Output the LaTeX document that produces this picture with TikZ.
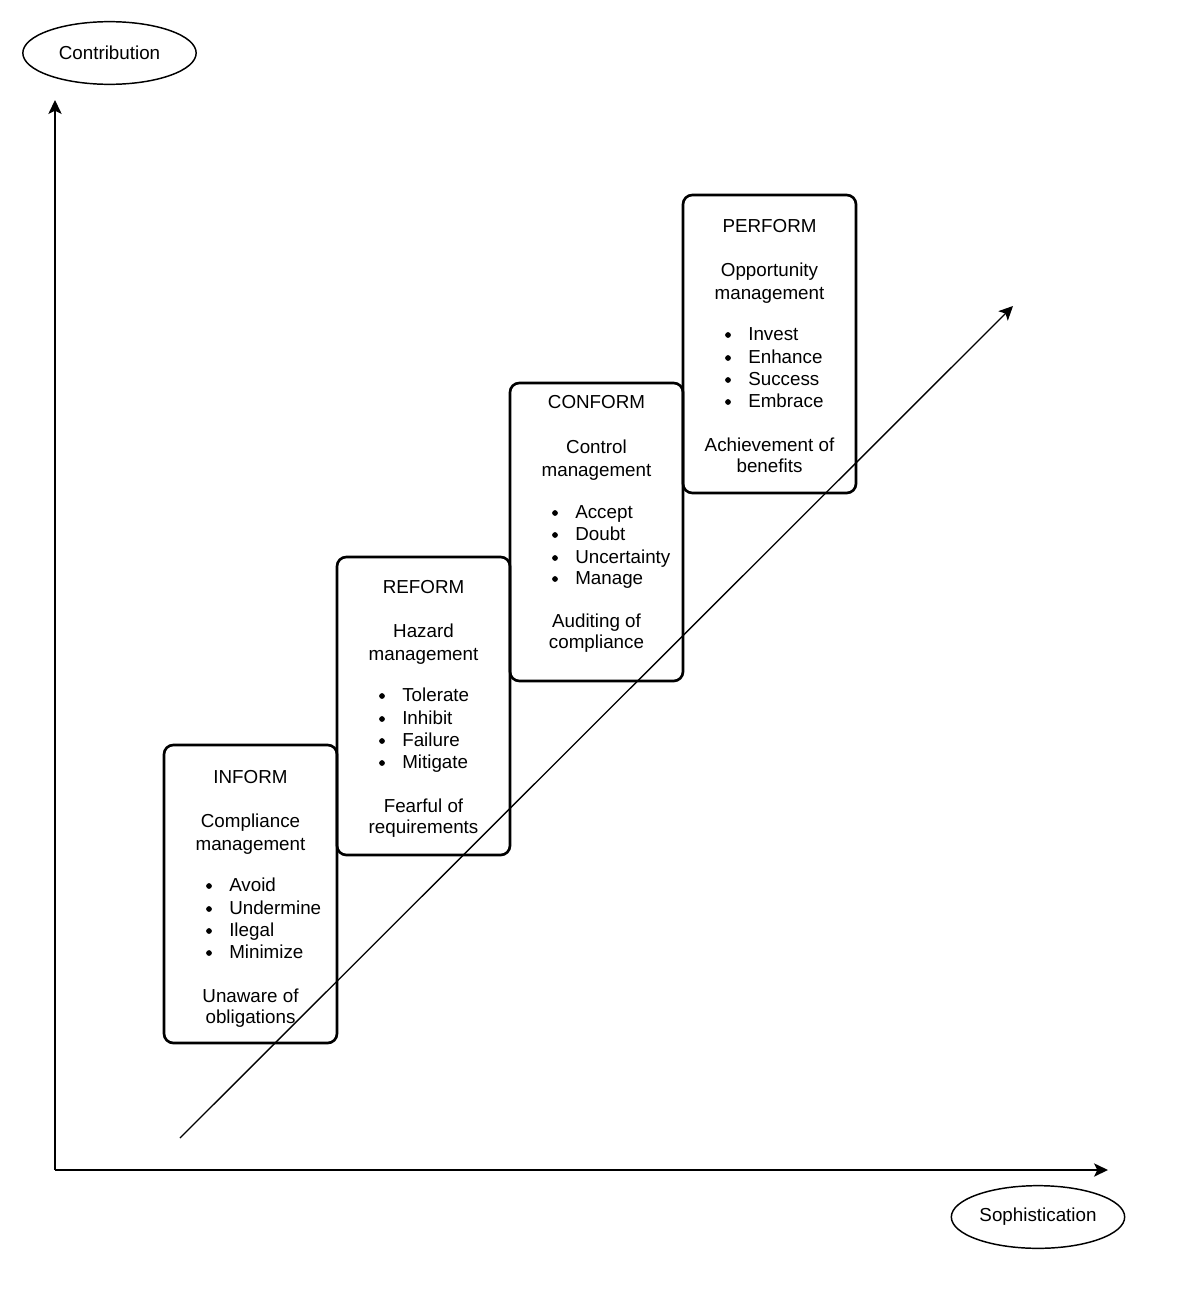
\documentclass[tikz,border=0pt]{standalone}
\usepackage{fontspec}
\setmainfont{Liberation Sans}
\usetikzlibrary{arrows.meta,shapes.geometric}
\tikzset{
  stepbox/.style={draw, line width=2pt, rounded corners=7pt, minimum width=129.75pt, minimum height=223.5pt, inner sep=0pt},
  lbl/.style={inner sep=0pt, font=\fontsize{14.1}{16}\selectfont},
  dot/.style={circle, fill, inner sep=0pt, minimum size=4.3pt},
  axis/.style={line width=1.1pt, -{Stealth[length=10.5pt,width=10pt,inset=2.5pt]}},
  oval/.style={draw, ellipse, line width=1.1pt, minimum width=130pt, minimum height=47pt, inner sep=0pt, font=\fontsize{14.1}{16}\selectfont},
}
\newcommand{\stage}[6]{%
  \node[stepbox] (#1) at ({#2+86.5},{#3+149}) {};
  \foreach \dy/\txt [count=\i] in {#5} {
    \node[lbl, anchor=base] (#1-c\i) at ({#2+86.5},{#4+\dy}) {\txt};
  }
  \foreach \dy/\txt [count=\i] in {#6} {
    \node[dot] (#1-b\i) at ({#2+45},{#4+\dy-5}) {};
    \node[lbl, anchor=base west] (#1-i\i) at ({#2+65},{#4+\dy}) {\txt};
  }
}
\begin{document}
\begin{tikzpicture}[x=0.75pt,y=-0.75pt]
\useasboundingbox (0,0) rectangle (1180,1292);
% ellipses
\node[oval] (contrib) at (109.5,53) {Contribution};
\node[oval] (soph) at (1038,1217) {Sophistication};
% axes
\coordinate (o) at (55,1170);
\coordinate (ytip) at (55,100);
\coordinate (xtip) at (1108,1170);
\draw[axis] (o) -- (ytip);
\draw[axis] (o) -- (xtip);
% stages
\stage{inform}{164}{745}{783}{0/INFORM,44/Compliance,67/management,219/Unaware of,240/obligations}{108/Avoid,131/Undermine,153/Ilegal,175/Minimize}
\stage{reform}{337}{557}{593}{0/REFORM,44/Hazard,67/management,219/Fearful of,240/requirements}{108/Tolerate,131/Inhibit,153/Failure,175/Mitigate}
\stage{conform}{510}{383}{408}{0/CONFORM,45/Control,68/management,219/Auditing of,240/compliance}{110/Accept,132/Doubt,155/Uncertainty,176/Manage}
\stage{perform}{683}{195}{232}{0/PERFORM,44/Opportunity,67/management,219/Achievement of,240/benefits}{108/Invest,131/Enhance,153/Success,175/Embrace}
% diagonal arrow
\coordinate (d0) at (180,1138);
\coordinate (d1) at (1013,306);
\draw[axis, line width=1pt] (d0) -- (d1);
\end{tikzpicture}
\end{document}
